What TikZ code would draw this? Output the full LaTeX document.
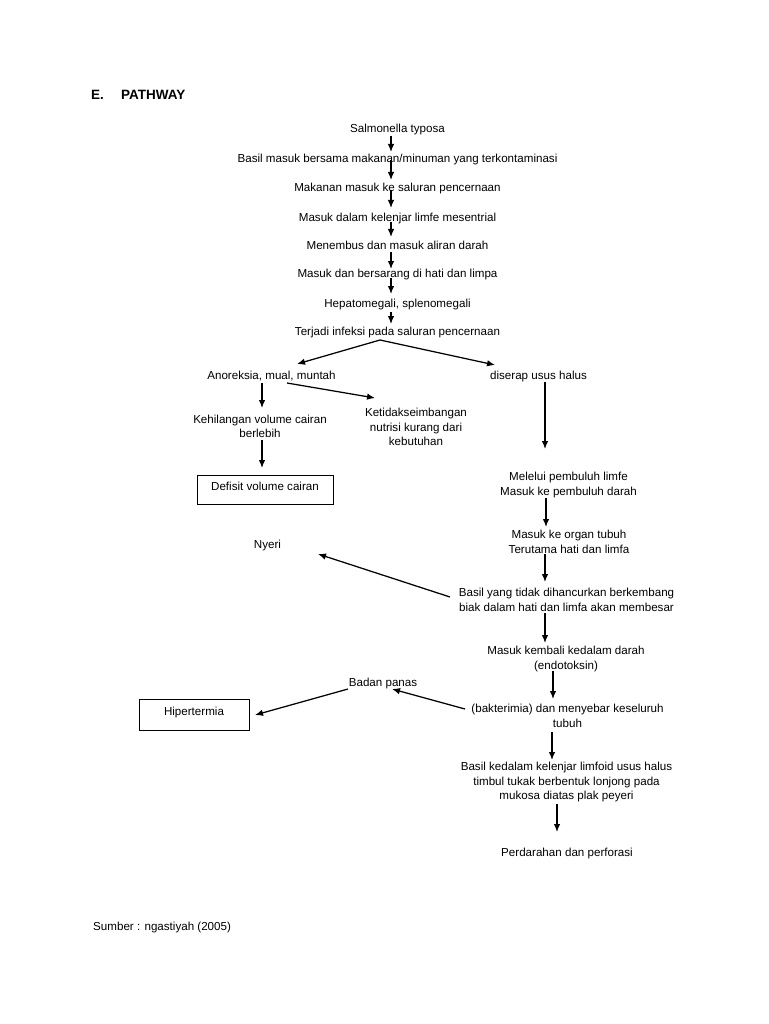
\documentclass[tikz,border=0pt]{standalone}
\usepackage{fontspec}
\setmainfont{Liberation Sans}
\usetikzlibrary{arrows.meta}
\newcommand\sx{\rule[-2.65pt]{0pt}{14.5pt}}
\begin{document}
\begin{tikzpicture}[x=1pt,y=-1pt,
  txt/.style={inner sep=0pt, align=center, font=\fontsize{11.6}{14.5}\selectfont},
  box/.style={draw, line width=0.95pt, inner sep=0pt, font=\fontsize{11.6}{14.5}\selectfont, text height=6.5pt, text depth=4.5pt},
  ttl/.style={anchor=base west, inner sep=0pt, font=\fontsize{13.5}{16}\selectfont\bfseries},
  arr/.style={line width=1.25pt, -{Latex[length=8pt,width=6.5pt]}},
  ln/.style={line width=1.25pt}]
\fill[white] (0,0) rectangle (768,1024);
\useasboundingbox (0,0) rectangle (768,1024);

% title and source
\node[ttl] (tE) at (91,100) {E.};
\node[ttl] (tP) at (121,100) {PATHWAY};
\node[anchor=base west, inner sep=0pt, font=\fontsize{11.6}{14.5}\selectfont] (src) at (93,930) {Sumber : ngastiyah (2005)};

% main column
\node[txt] (s1) at (397.5,128) {\sx Salmonella typosa};
\node[txt] (s2) at (397.5,158) {\sx Basil masuk bersama makanan/minuman yang terkontaminasi};
\node[txt] (s3) at (397.5,187) {\sx Makanan masuk ke saluran pencernaan};
\node[txt] (s4) at (397.5,217) {\sx Masuk dalam kelenjar limfe mesentrial};
\node[txt] (s5) at (397.5,245) {\sx Menembus dan masuk aliran darah};
\node[txt] (s6) at (397.5,273) {\sx Masuk dan bersarang di hati dan limpa};
\node[txt] (s7) at (397.5,303) {\sx Hepatomegali, splenomegali};
\node[txt] (s8) at (397.5,331) {\sx Terjadi infeksi pada saluran pencernaan};

% left branch
\node[txt] (a1) at (271.5,375) {\sx Anoreksia, mual, muntah};
\node[txt] (k1) at (260,426) {\sx Kehilangan volume cairan\\\sx berlebih};
\node[txt] (kt) at (416,426.5) {\sx Ketidakseimbangan\\\sx nutrisi kurang dari\\\sx kebutuhan};
\node[box, minimum width=136pt, minimum height=29pt] (df) at (265,489.5) {Defisit volume cairan};

% right branch
\node[txt] (d1) at (538.5,375) {\sx diserap usus halus};
\node[txt] (m1) at (568.5,483.5) {\sx Melelui pembuluh limfe\\\sx Masuk ke pembuluh darah};
\node[txt] (m2) at (569,541.5) {\sx Masuk ke organ tubuh\\\sx Terutama hati dan limfa};
\node[txt] (b1) at (566.5,599.5) {\sx Basil yang tidak dihancurkan berkembang\\\sx biak dalam hati dan limfa akan membesar};
\node[txt] (mk) at (566,657.5) {\sx Masuk kembali kedalam darah\\\sx (endotoksin)};
\node[txt] (bk) at (567.5,715.5) {\sx (bakterimia) dan menyebar keseluruh\\\sx tubuh};
\node[txt] (bl) at (566.5,780.5) {\sx Basil kedalam kelenjar limfoid usus halus\\\sx timbul tukak berbentuk lonjong pada\\\sx mukosa diatas plak peyeri};
\node[txt] (pd) at (567,852) {\sx Perdarahan dan perforasi};

% side outcomes
\node[txt] (ny) at (267.5,544) {\sx Nyeri};
\node[txt] (bp) at (383,682) {\sx Badan panas};
\node[box, minimum width=110pt, minimum height=31pt] (hp) at (194,714.5) {Hipertermia};

% main column arrows
\draw[arr] ([shift={(-6.5,8)}]s1.center) -- ([shift={(-6.5,-6)}]s2.center);
\draw[arr] ([shift={(-6.5,2)}]s2.center) -- ([shift={(-6.5,-7)}]s3.center);
\draw[arr] ([shift={(-6.5,3)}]s3.center) -- ([shift={(-6.5,-9)}]s4.center);
\draw[arr] ([shift={(-6.5,5)}]s4.center) -- ([shift={(-6.5,-8)}]s5.center);
\draw[arr] ([shift={(-6.5,7)}]s5.center) -- ([shift={(-6.5,-4)}]s6.center);
\draw[arr] ([shift={(-6.5,5)}]s6.center) -- ([shift={(-6.5,-9)}]s7.center);
\draw[arr] ([shift={(-6.5,9)}]s7.center) -- ([shift={(-6.5,-7)}]s8.center);

% branching
\coordinate (apex) at ([shift={(-17.5,9)}]s8.center);
\draw[arr] (apex) -- ([shift={(25.5,-11)}]a1.center);
\draw[arr] (apex) -- ([shift={(-43.5,-10)}]d1.center);

% left branch arrows
\draw[arr] ([shift={(-9.5,8)}]a1.center) -- ([shift={(2,-18)}]k1.center);
\draw[arr] ([shift={(15.5,8)}]a1.center) -- ([shift={(-41,-28.5)}]kt.center);
\draw[arr] ([shift={(2,14)}]k1.center) -- ([shift={(-3,-21.5)}]df.center);

% right branch arrows
\draw[arr] ([shift={(6.5,7)}]d1.center) -- ([shift={(-23.5,-34.5)}]m1.center);
\draw[arr] ([shift={(-22.5,14.5)}]m1.center) -- ([shift={(-23,-14.5)}]m2.center);
\draw[arr] ([shift={(-24,12.5)}]m2.center) -- ([shift={(-21.5,-17.5)}]b1.center);
\draw[arr] ([shift={(-21.5,13.5)}]b1.center) -- ([shift={(-21,-14.5)}]mk.center);
\draw[arr] ([shift={(-13,13.5)}]mk.center) -- ([shift={(-14.5,-16.5)}]bk.center);
\draw[arr] ([shift={(-15.5,16.5)}]bk.center) -- ([shift={(-14.5,-20.5)}]bl.center);
\draw[arr] ([shift={(-9.5,23.5)}]bl.center) -- ([shift={(-10,-20)}]pd.center);

% side arrows
\draw[arr] ([shift={(-116.5,-2.5)}]b1.center) -- ([shift={(50.5,10)}]ny.center);
\draw[arr] ([shift={(-102.5,-6.5)}]bk.center) -- ([shift={(9,7)}]bp.center);
\draw[arr] ([shift={(-35,7)}]bp.center) -- ([shift={(61,0.5)}]hp.center);
\end{tikzpicture}
\end{document}
